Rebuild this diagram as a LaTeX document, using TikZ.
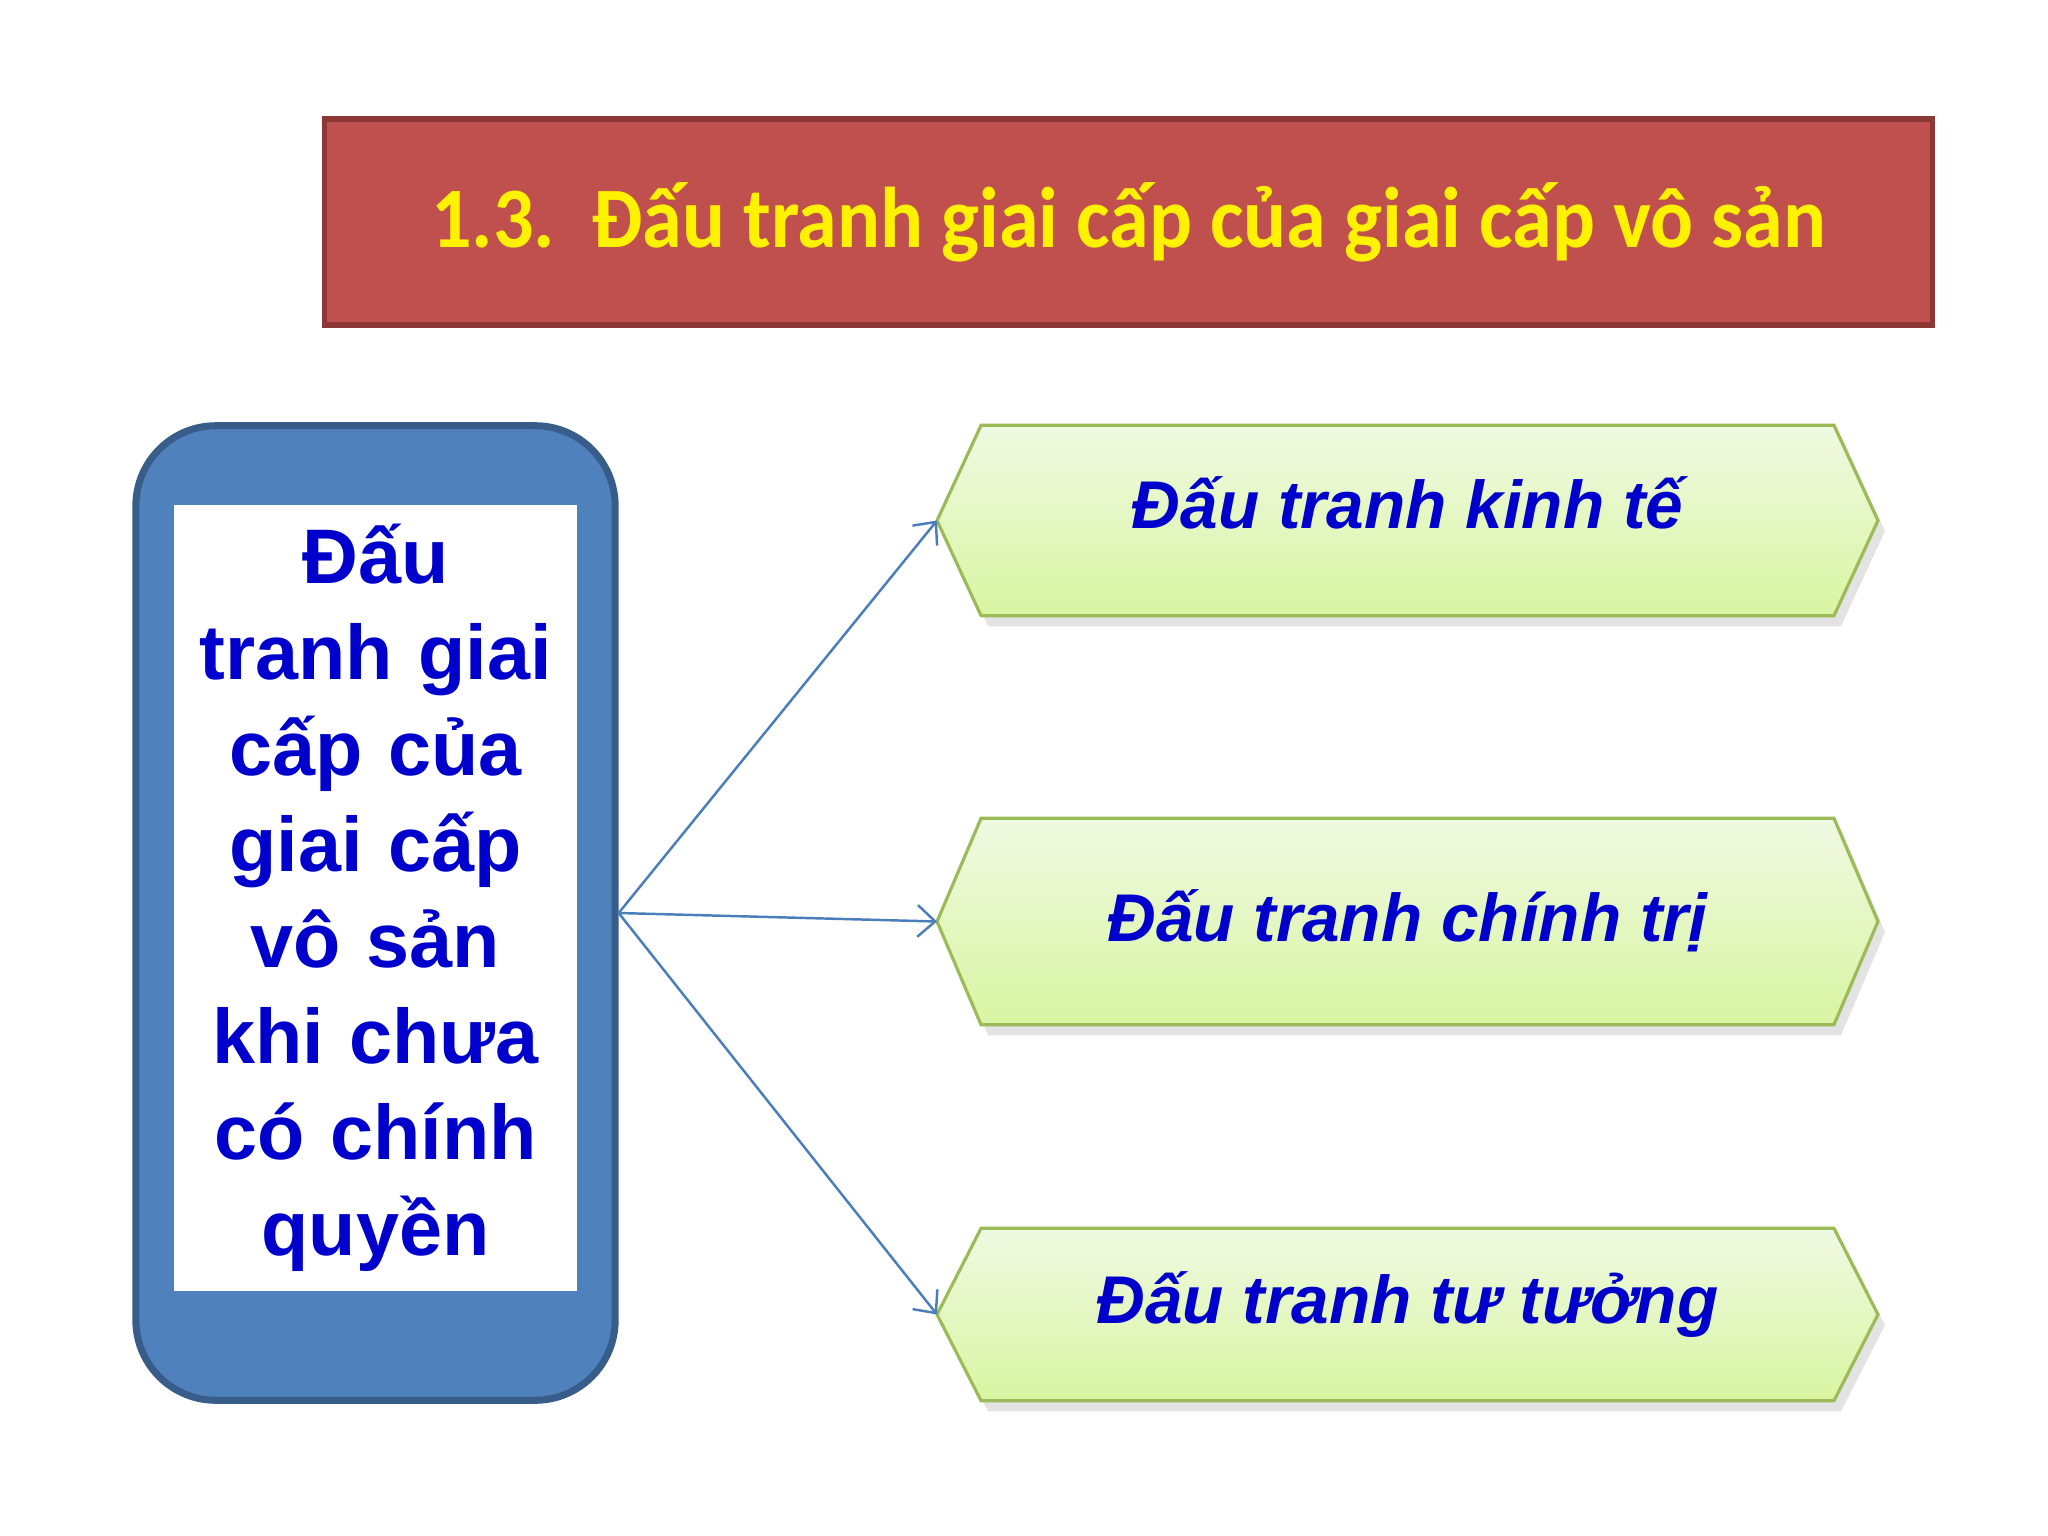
\documentclass[tikz,border=0pt]{standalone}
\usepackage{fontspec}
\setmainfont{Liberation Sans}
\newfontfamily\titlefont[FakeStretch=0.93]{Carlito}
\usetikzlibrary{positioning,calc,shadows,backgrounds,arrows.meta}
\definecolor{titlered}{HTML}{C0504D}
\definecolor{titleedge}{HTML}{8C3836}
\definecolor{boxblue}{HTML}{4F81BD}
\definecolor{boxedge}{HTML}{385D8A}
\definecolor{textblue}{HTML}{0000CC}
\definecolor{arrblue}{HTML}{4A7EBB}
\definecolor{hexedge}{HTML}{9BBB59}
\definecolor{hextop}{HTML}{F0F9E2}
\definecolor{hexbot}{HTML}{D8F5A2}

\begin{document}
\begin{tikzpicture}[x=0.01cm,y=-0.01cm,
        hexbox/.style={minimum width=9.39cm,inner sep=0pt,text=textblue,
            font=\fontsize{19.2}{23}\selectfont\bfseries\itshape},
        hexline/.style={draw=hexedge,line width=0.9pt,top color=hextop,bottom color=hexbot,
            drop shadow={opacity=0.22,shadow xshift=2pt,shadow yshift=-3pt}},
        arr/.style={draw=arrblue,line width=0.7pt,-{Straight Barb[length=5pt,width=9pt]}}]
    \useasboundingbox (0,0) rectangle (2048,1536);

    % title bar
    \node[draw=titleedge,line width=1.6pt,fill=titlered,minimum width=16.07cm,minimum height=2.06cm,
        text=yellow,font=\titlefont\fontsize{24.5}{28}\selectfont\bfseries] (title) at (1128.5,222)
        {1.3.\ \ Đấu tranh giai cấp của giai cấp vô sản};

    % left block
    \node[draw=boxedge,line width=2pt,fill=boxblue,rounded corners=0.8cm,
        minimum width=4.79cm,minimum height=9.74cm] (left) at (375.5,913) {};
    \node[fill=white,inner sep=0pt,minimum width=4.03cm,minimum height=7.86cm,text width=4.03cm,
        align=center,text=textblue,font=\fontsize{22}{27.3}\selectfont\bfseries] (main) at (375.5,898)
        {Đấu\\tranh giai\\cấp của\\giai cấp\\vô sản\\khi chưa\\có chính\\quyền};

    % the three forms
    \node[hexbox,minimum height=1.89cm] (h1) at (1407.5,520.5) {\raisebox{0.35cm}{Đấu tranh kinh tế}};
    \node[hexbox,minimum height=2.05cm] (h2) at (1407.5,921.5) {\raisebox{0.11cm}{Đấu tranh chính trị}};
    \node[hexbox,minimum height=1.71cm] (h3) at (1407.5,1314.5) {\raisebox{0.34cm}{Đấu tranh tư tưởng}};

    \begin{pgfonlayer}{background}
        \foreach \h in {h1,h2,h3}
            \draw[hexline] (\h.west) -- ([xshift=0.44cm]\h.north west) -- ([xshift=-0.44cm]\h.north east)
                -- (\h.east) -- ([xshift=-0.44cm]\h.south east) -- ([xshift=0.44cm]\h.south west) -- cycle;
    \end{pgfonlayer}

    \foreach \h in {h1,h2,h3}
        \draw[arr] (left.east) -- (\h.west);
\end{tikzpicture}
\end{document}
